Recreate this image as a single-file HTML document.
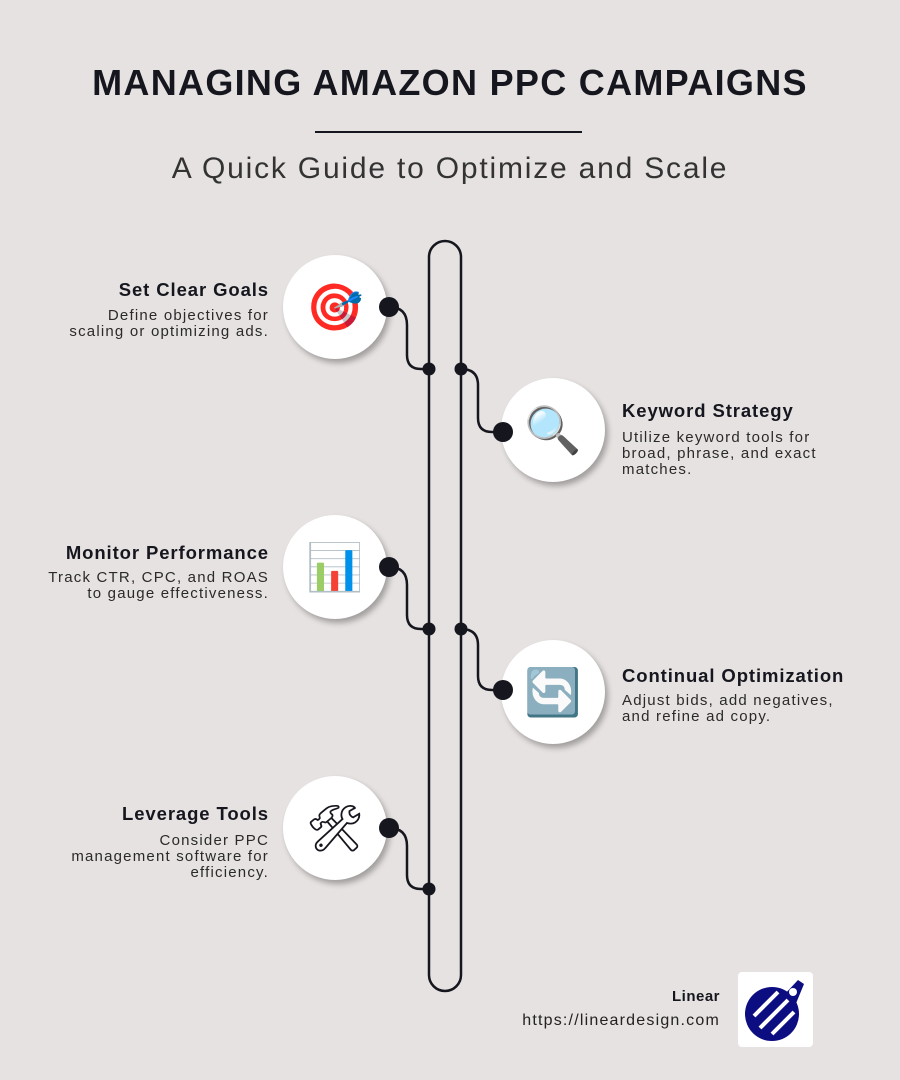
<!DOCTYPE html>
<html><head><meta charset="utf-8"><style>
body{margin:0;width:900px;height:1080px;background:#e6e2e1;font-family:"Liberation Sans",sans-serif;position:relative;overflow:hidden;color:#16161e}
.t{position:absolute;left:0;width:900px;text-align:center;white-space:nowrap}
.h{position:absolute;font-weight:bold;font-size:18.5px;letter-spacing:0.9px;white-space:nowrap}
.d{position:absolute;font-size:15px;letter-spacing:1.2px;line-height:16px;color:#2a2a2a;white-space:nowrap}
.L{text-align:right;right:631px}
.R{left:622px}
.c{position:absolute;width:104px;height:104px;border-radius:50%;background:#fff;box-shadow:3px 4px 6px rgba(0,0,0,.3);display:flex;align-items:center;justify-content:center;font-size:46px;font-family:"DejaVu Sans",sans-serif}
</style></head><body>
<div class="t" style="top:62px;font-size:36px;font-weight:bold;letter-spacing:1.3px">MANAGING AMAZON PPC CAMPAIGNS</div>
<div style="position:absolute;left:315px;top:131px;width:267px;height:2px;background:#16161e"></div>
<div class="t" style="top:152px;font-size:30px;letter-spacing:1.8px;color:#333">A Quick Guide to Optimize and Scale</div>

<div class="c" style="left:283px;top:255px">🎯</div>
<div class="c" style="left:501px;top:378px">🔍</div>
<div class="c" style="left:283px;top:515px">📊</div>
<div class="c" style="left:501px;top:640px">🔄</div>
<div class="c" style="left:283px;top:776px">🛠</div>

<svg style="position:absolute;left:0;top:0" width="900" height="1080">
<g fill="none" stroke="#16161e" stroke-width="2.5">
<rect x="429" y="241" width="32" height="750" rx="16"/>
<path d="M389 307 Q407 307 407 325 V355 Q407 369 421 369 H429"/>
<path d="M461 369 Q478 369 478 385 V418 Q478 432 492 432 H503"/>
<path d="M389 567 Q407 567 407 585 V615 Q407 629 421 629 H429"/>
<path d="M461 629 Q478 629 478 645 V676 Q478 690 492 690 H503"/>
<path d="M389 828 Q407 828 407 846 V875 Q407 889 421 889 H429"/>
</g>
<g fill="#16161e">
<circle cx="389" cy="307" r="10"/><circle cx="429" cy="369" r="6.5"/><circle cx="461" cy="369" r="6.5"/><circle cx="503" cy="432" r="10"/>
<circle cx="389" cy="567" r="10"/><circle cx="429" cy="629" r="6.5"/><circle cx="461" cy="629" r="6.5"/><circle cx="503" cy="690" r="10"/>
<circle cx="389" cy="828" r="10"/><circle cx="429" cy="889" r="6.5"/>
</g>
</svg>

<div class="h L" style="top:279px">Set Clear Goals</div>
<div class="d L" style="top:308px">Define objectives for<br>scaling or optimizing ads.</div>
<div class="h R" style="top:400px">Keyword Strategy</div>
<div class="d R" style="top:430px">Utilize keyword tools for<br>broad, phrase, and exact<br>matches.</div>
<div class="h L" style="top:542px">Monitor Performance</div>
<div class="d L" style="top:570px">Track CTR, CPC, and ROAS<br>to gauge effectiveness.</div>
<div class="h R" style="top:665px">Continual Optimization</div>
<div class="d R" style="top:693px">Adjust bids, add negatives,<br>and refine ad copy.</div>
<div class="h L" style="top:803px">Leverage Tools</div>
<div class="d L" style="top:833px">Consider PPC<br>management software for<br>efficiency.</div>

<div style="position:absolute;right:180px;top:988px;font-weight:bold;font-size:15px;letter-spacing:.5px">Linear</div>
<div style="position:absolute;right:180px;top:1012px;font-size:16px;letter-spacing:1.2px;color:#222">https://lineardesign.com</div>
<div style="position:absolute;left:738px;top:972px;width:75px;height:75px;background:#fff;border-radius:4px">
<svg width="75" height="75" viewBox="0 0 75 75">
<circle cx="34" cy="42" r="27" fill="#0d0d82"/>
<path d="M30 40 L60 8 L66 12 L52 46 Z" fill="#0d0d82"/>
<g stroke="#fff" stroke-width="4"><line x1="16" y1="44" x2="40" y2="20"/><line x1="22" y1="56" x2="50" y2="28"/><line x1="34" y1="62" x2="56" y2="40"/></g>
<circle cx="55" cy="20" r="4" fill="#fff"/>
</svg></div>
</body></html>
